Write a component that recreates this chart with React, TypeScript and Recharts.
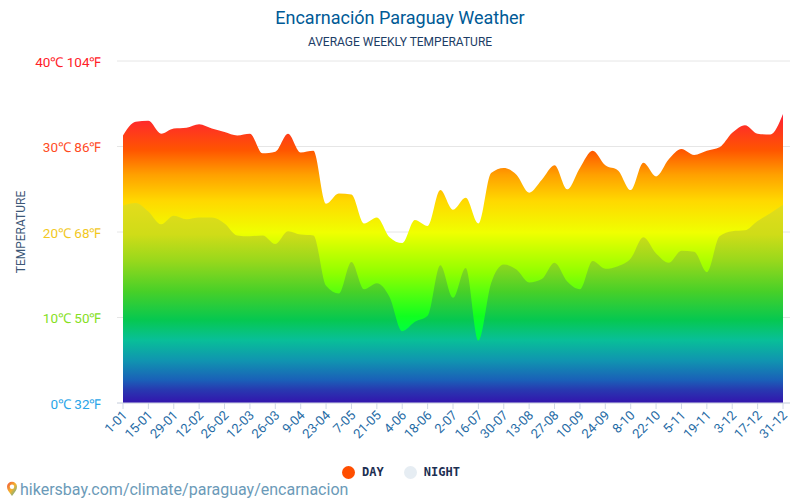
import { AreaChart, Area, XAxis, YAxis, CartesianGrid, Legend } from 'recharts'

const weeks = [
  '1-01', '8-01', '15-01', '22-01', '29-01', '5-02', '12-02', '19-02', '26-02', '5-03', '12-03', '19-03', '26-03',
  '2-04', '9-04', '16-04', '23-04', '30-04', '7-05', '14-05', '21-05', '28-05', '4-06', '11-06', '18-06', '25-06',
  '2-07', '9-07', '16-07', '23-07', '30-07', '6-08', '13-08', '20-08', '27-08', '3-09', '10-09', '17-09', '24-09',
  '1-10', '8-10', '15-10', '22-10', '29-10', '5-11', '12-11', '19-11', '26-11', '3-12', '10-12', '17-12', '24-12', '31-12',
]
const dayTemps = [
  31.3, 32.9, 33.0, 31.5, 32.1, 32.2, 32.6, 32.1, 31.7, 31.3, 31.5, 29.2, 29.4,
  31.5, 29.3, 29.5, 23.3, 24.5, 24.4, 21.0, 21.7, 19.4, 18.7, 21.4, 20.7, 24.9,
  22.6, 24.0, 21.0, 26.9, 27.5, 26.7, 24.6, 26.1, 27.8, 25.0, 27.5, 29.5, 27.8,
  27.2, 24.9, 28.1, 26.5, 28.5, 29.7, 29.0, 29.5, 29.9, 31.6, 32.5, 31.5, 31.4, 33.8,
]
const nightTemps = [
  23.1, 23.4, 22.4, 20.9, 21.9, 21.5, 21.7, 21.7, 21.0, 19.6, 19.5, 19.6, 18.6,
  20.1, 19.7, 19.6, 13.7, 12.8, 16.5, 13.3, 14.0, 12.4, 8.4, 9.5, 10.2, 16.1,
  12.3, 15.8, 7.3, 14.0, 16.2, 15.6, 14.1, 14.5, 16.4, 14.2, 13.3, 16.6, 15.7,
  16.0, 16.9, 19.4, 17.5, 16.4, 17.8, 17.7, 15.3, 19.5, 20.1, 20.2, 21.3, 22.2, 23.2,
]
const yTicks = [0, 10, 20, 30, 40]
const yLabels: Record<number, [string, string]> = {
  0: ['0℃ 32℉', '#2aa5e8'],
  10: ['10℃ 50℉', '#86e01e'],
  20: ['20℃ 68℉', '#f2c81e'],
  30: ['30℃ 86℉', '#ff4b1f'],
  40: ['40℃ 104℉', '#ff2028'],
}

const data = weeks.map((w, i) => ({ week: w, day: dayTemps[i], night: nightTemps[i] }))
const font = 'Roboto, sans-serif'

function YTick({ y, payload }: any) {
  const [label, color] = yLabels[payload.value]
  return (
    <text x={101.5} y={y + 5.5} textAnchor="end" fontSize={13.5} fontFamily={font} fill={color}>
      {label}
    </text>
  )
}

function XTick({ x, y, payload }: any) {
  return (
    <text
      x={x + 5}
      y={y + 5}
      textAnchor="end"
      fontSize={13}
      fontFamily={font}
      fill="#1f6ba5"
      transform={`rotate(-45 ${x + 5} ${y + 5})`}
    >
      {payload.value}
    </text>
  )
}

function LegendRow() {
  const items = [
    { name: 'DAY', color: '#ff4e00' },
    { name: 'NIGHT', color: '#e6edf3' },
  ]
  return (
    <div style={{ display: 'flex', justifyContent: 'center', gap: 20, paddingTop: 7, paddingLeft: 12 }}>
      {items.map(it => (
        <div key={it.name} style={{ display: 'flex', alignItems: 'center', gap: 7 }}>
          <span style={{ width: 13, height: 13, borderRadius: 7, background: it.color, display: 'block' }} />
          <span style={{ fontFamily: '"DejaVu Sans Mono", monospace', fontWeight: 'bold', fontSize: 12, color: '#1c2f52' }}>
            {it.name}
          </span>
        </div>
      ))}
    </div>
  )
}

export default function App() {
  return (
    <div style={{ position: 'absolute', left: 0, top: 0, width: 800, height: 500, background: '#fff' }}>
      <AreaChart
        width={800}
        height={500}
        data={data}
        margin={{ top: 61, right: 10, left: 0, bottom: 0 }}
      >
        <defs>
          <linearGradient id="dayFill" gradientUnits="userSpaceOnUse" x1="0" y1="114" x2="0" y2="403">
            <stop offset="0" stopColor="#ff1f35" />
            <stop offset="0.07" stopColor="#ff3d18" />
            <stop offset="0.125" stopColor="#ff5500" />
            <stop offset="0.21" stopColor="#ffa000" />
            <stop offset="0.3" stopColor="#ffd800" />
            <stop offset="0.41" stopColor="#f0ff00" />
            <stop offset="0.55" stopColor="#90ff00" />
            <stop offset="0.7" stopColor="#10ff20" />
            <stop offset="0.75" stopColor="#00ff40" />
            <stop offset="1" stopColor="#00ff40" />
          </linearGradient>
          <linearGradient id="nightFill" gradientUnits="userSpaceOnUse" x1="0" y1="200" x2="0" y2="403">
            <stop offset="0" stopColor="#e6dc1c" />
            <stop offset="0.17" stopColor="#cfdc18" />
            <stop offset="0.3" stopColor="#98d81c" />
            <stop offset="0.45" stopColor="#48d028" />
            <stop offset="0.59" stopColor="#06c850" />
            <stop offset="0.69" stopColor="#08bf98" />
            <stop offset="0.79" stopColor="#1095b0" />
            <stop offset="0.887" stopColor="#1a60b8" />
            <stop offset="0.936" stopColor="#2838b0" />
            <stop offset="1" stopColor="#3314ad" />
          </linearGradient>
        </defs>
        <CartesianGrid vertical={false} stroke="#e6e6e6" />
        <XAxis
          dataKey="week"
          interval={1}
          height={55}
          padding={{ left: 6, right: 7 }}
          stroke="#d0d8e6"
          tickSize={6}
          tick={<XTick />}
        />
        <YAxis domain={[0, 40]} ticks={yTicks} width={117} tick={<YTick />} axisLine={false} tickLine={false} />
        <Area type="monotone" dataKey="day" stroke="none" fill="url(#dayFill)" fillOpacity={1} isAnimationActive={false} />
        <Area type="monotone" dataKey="night" stroke="none" fill="url(#nightFill)" fillOpacity={1} isAnimationActive={false} />
        <Legend verticalAlign="bottom" height={42} content={<LegendRow />} />
      </AreaChart>

      <div style={{ position: 'absolute', top: 7, left: 0, width: 800, textAlign: 'center', fontFamily: font, fontSize: 18, color: '#005a96' }}>
        Encarnación Paraguay Weather
      </div>
      <div style={{ position: 'absolute', top: 35, left: 0, width: 800, textAlign: 'center', fontFamily: font, fontSize: 12, color: '#1c3d66' }}>
        AVERAGE WEEKLY TEMPERATURE
      </div>
      <div
        style={{
          position: 'absolute',
          left: 21,
          top: 232,
          transform: 'translate(-50%, -50%) rotate(-90deg)',
          fontFamily: font,
          fontSize: 12,
          color: '#3d5878',
          whiteSpace: 'nowrap',
        }}
      >
        TEMPERATURE
      </div>
      <svg style={{ position: 'absolute', left: 6, top: 481 }} width={13} height={16}>
        <defs>
          <linearGradient id="pinFill" x1="0" y1="0" x2="1" y2="1">
            <stop offset="0" stopColor="#f0503c" />
            <stop offset="0.5" stopColor="#f5b52e" />
            <stop offset="1" stopColor="#3aa8b0" />
          </linearGradient>
        </defs>
        <path d="M6 15 C3 11 1 9 1 5.8 A5 5 0 0 1 11 5.8 C11 9 9 11 6 15 Z" fill="url(#pinFill)" />
        <circle cx={6} cy={5.8} r={2.2} fill="#fff" />
      </svg>
      <div style={{ position: 'absolute', left: 20, top: 480, fontFamily: font, fontSize: 16, color: '#6b9ab8', whiteSpace: 'nowrap' }}>
        hikersbay.com/climate/paraguay/encarnacion
      </div>
    </div>
  )
}
